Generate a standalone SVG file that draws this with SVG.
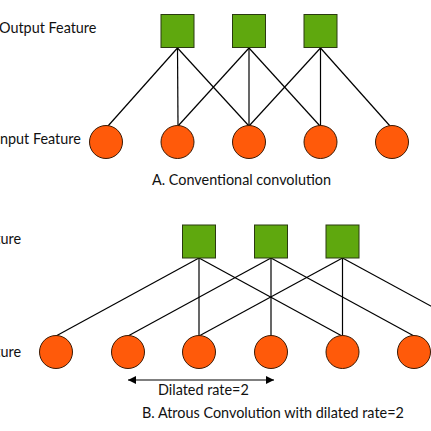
<svg xmlns="http://www.w3.org/2000/svg" width="431" height="431" viewBox="0 0 431 431">
<defs>
<style>
.sq{fill:#5FA80E;stroke:#2a3a10;stroke-width:1}
.ci{fill:#FF5A0A;stroke:#3a1a05;stroke-width:1}
.ln{stroke:#000;stroke-width:1.2;fill:none}
text{font-family:Lato,"Liberation Sans",sans-serif;font-size:14.4px;fill:#111}
</style>
<marker id="ah" viewBox="0 0 10 10" refX="10" refY="5" markerWidth="12" markerHeight="8" markerUnits="userSpaceOnUse" orient="auto-start-reverse">
<path d="M0,0 L10,5 L0,10 z" fill="#000"/>
</marker>
</defs>
<rect width="431" height="431" fill="#fff"/>
<g id="connectors">
<line class="ln" x1="177.5" y1="48" x2="108" y2="126"/>
<line class="ln" x1="177.5" y1="48" x2="178" y2="126"/>
<line class="ln" x1="177.5" y1="48" x2="249" y2="126"/>
<line class="ln" x1="249" y1="48" x2="178" y2="126"/>
<line class="ln" x1="249" y1="48" x2="249" y2="126"/>
<line class="ln" x1="249" y1="48" x2="320" y2="126"/>
<line class="ln" x1="320.5" y1="48" x2="249" y2="126"/>
<line class="ln" x1="320.5" y1="48" x2="320.5" y2="126"/>
<line class="ln" x1="320.5" y1="48" x2="390" y2="126"/>
<line class="ln" x1="199" y1="258" x2="56" y2="336"/>
<line class="ln" x1="199" y1="258" x2="199" y2="336"/>
<line class="ln" x1="199" y1="258" x2="342" y2="336"/>
<line class="ln" x1="271" y1="258" x2="128" y2="336"/>
<line class="ln" x1="271" y1="258" x2="271" y2="336"/>
<line class="ln" x1="271" y1="258" x2="414" y2="336"/>
<line class="ln" x1="342.5" y1="258" x2="199" y2="336"/>
<line class="ln" x1="342.5" y1="258" x2="342.5" y2="336"/>
<line class="ln" x1="342.5" y1="258" x2="486" y2="336"/>
<line class="ln" x1="128" y1="380" x2="274" y2="380" stroke-width="1.5" marker-start="url(#ah)" marker-end="url(#ah)"/>
</g>
<g id="A-out1"><rect class="sq" x="161" y="14.5" width="33" height="33"/></g>
<g id="A-out2"><rect class="sq" x="232.5" y="14.5" width="33" height="33"/></g>
<g id="A-out3"><rect class="sq" x="304" y="14.5" width="33" height="33"/></g>
<g id="A-in1"><circle class="ci" cx="106" cy="142" r="16.5"/></g>
<g id="A-in2"><circle class="ci" cx="177.5" cy="142" r="16.5"/></g>
<g id="A-in3"><circle class="ci" cx="249" cy="142" r="16.5"/></g>
<g id="A-in4"><circle class="ci" cx="320.5" cy="142" r="16.5"/></g>
<g id="A-in5"><circle class="ci" cx="392" cy="142" r="16.5"/></g>
<g id="B-out1"><rect class="sq" x="182.5" y="225" width="33" height="33"/></g>
<g id="B-out2"><rect class="sq" x="254.5" y="225" width="33" height="33"/></g>
<g id="B-out3"><rect class="sq" x="326" y="225" width="33" height="33"/></g>
<g id="B-in1"><circle class="ci" cx="56" cy="352" r="16.5"/></g>
<g id="B-in2"><circle class="ci" cx="128" cy="352" r="16.5"/></g>
<g id="B-in3"><circle class="ci" cx="199" cy="352" r="16.5"/></g>
<g id="B-in4"><circle class="ci" cx="271" cy="352" r="16.5"/></g>
<g id="B-in5"><circle class="ci" cx="342.5" cy="352" r="16.5"/></g>
<g id="B-in6"><circle class="ci" cx="414" cy="352" r="16.5"/></g>
<g id="labels">
<text x="-1" y="33">Output Feature</text>
<text x="-4" y="144">Input Feature</text>
<text x="152" y="185">A. Conventional convolution</text>
<text x="21" y="244" text-anchor="end">Output Feature</text>
<text x="21" y="357" text-anchor="end">Input Feature</text>
<text x="158" y="395">Dilated rate=2</text>
<text x="142" y="418">B. Atrous Convolution with dilated rate=2</text>
</g>
</svg>
